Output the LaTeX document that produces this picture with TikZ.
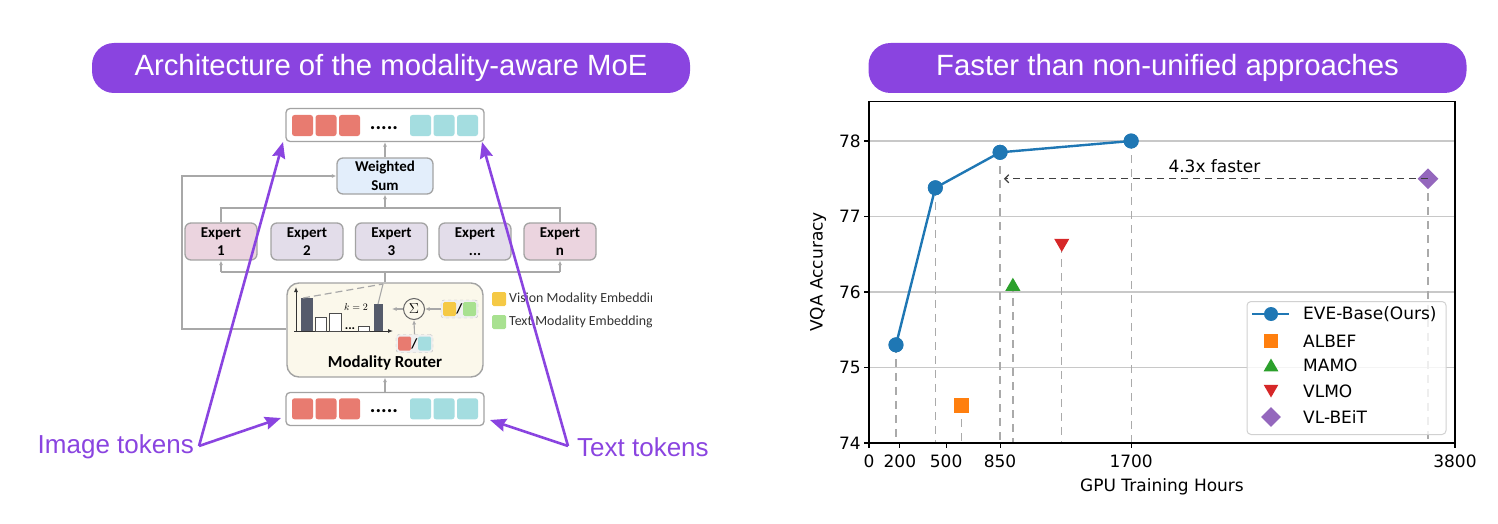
\documentclass[tikz,border=0pt]{standalone}
\usepackage{fontspec}
\setmainfont{Liberation Sans}
\newfontfamily\carl{Carlito}
\newfontfamily\djv{DejaVu Sans}
\usetikzlibrary{arrows.meta,calc,shapes.geometric}
\definecolor{purp}{HTML}{8A44E0}
\definecolor{tokred}{HTML}{E87B70}
\definecolor{tokteal}{HTML}{A4DDE0}
\definecolor{bgray}{HTML}{A3A3A3}
\definecolor{wgray}{HTML}{A8A8A8}
\definecolor{wsfill}{HTML}{E3EEFB}
\definecolor{pinkex}{HTML}{EBD4DF}
\definecolor{lavex}{HTML}{E3DDEA}
\definecolor{routfill}{HTML}{FBF8EB}
\definecolor{bardark}{HTML}{555B6B}
\definecolor{embyel}{HTML}{F5C945}
\definecolor{embgrn}{HTML}{A8E190}
\definecolor{cA}{HTML}{1F77B4}
\definecolor{cB}{HTML}{FF7F0E}
\definecolor{cC}{HTML}{2CA02C}
\definecolor{cD}{HTML}{D62728}
\definecolor{cE}{HTML}{9467BD}
\definecolor{gridc}{HTML}{C8C8C8}
\definecolor{dropc}{HTML}{AAAAAA}
\begin{document}
\begin{tikzpicture}[x=1pt,y=-1pt,
  pill/.style={fill=purp, rounded corners=22pt, text=white, font=\fontsize{29.3}{34}\selectfont, minimum width=598pt, minimum height=50pt, inner sep=0},
  tokbox/.style={draw=bgray, line width=1.3pt, rounded corners=4pt, fill=white, minimum width=198pt, minimum height=33pt, inner sep=0},
  tk/.style={rounded corners=2.5pt, minimum width=21pt, minimum height=21pt, inner sep=0},
  rt/.style={tk, fill=tokred},
  tt/.style={tk, fill=tokteal},
  dots/.style={font=\carl\bfseries\fontsize{21}{21}\selectfont, inner sep=0, anchor=base},
  expertbox/.style={draw=bgray, line width=1.3pt, rounded corners=6pt, minimum width=72pt, minimum height=37pt, inner sep=0, align=center, font=\carl\bfseries\fontsize{15}{18.5}\selectfont},
  wire/.style={draw=wgray, line width=1.1pt},
  warr/.style={wire, -{Latex[length=4.5pt,width=4pt]}},
  parr/.style={draw=purp, line width=2.6pt, -{Stealth[length=16pt,width=13pt,inset=2pt]}},
  plab/.style={text=purp, font=\fontsize{26}{30}\selectfont, inner sep=0},
  mini/.style={minimum width=13pt, minimum height=14pt, inner sep=0, rounded corners=1.5pt},
  embbox/.style={draw=bgray!70, dashed, fill=black!6, rounded corners=3pt, minimum width=37pt, minimum height=18pt, inner sep=0},
  ptxt/.style={font=\djv\fontsize{17}{20}\selectfont, inner sep=0},
  drop/.style={draw=dropc, line width=1.3pt, dash pattern=on 8pt off 6pt},
  ]
\useasboundingbox (0,0) rectangle (1498,524);

% ---------- titles ----------
\node[pill] (t1) at (391,68) {Architecture of the modality-aware MoE};
\node[pill] (t2) at (1167.5,68) {Faster than non-unified approaches};

% ---------- left diagram ----------
% top tokens
\node[tokbox] (topbox) at (385,125) {};
\foreach \i/\x in {1/302.5,2/326,3/349.5}{\node[rt] (tr\i) at (\x,125.5) {};}
\foreach \i/\x in {1/420.5,2/444,3/467.5}{\node[tt] (tt\i) at (\x,125.5) {};}
\node[dots] (tdots) at (384,129) {.....};

% weighted sum
\node[expertbox, fill=wsfill, minimum width=96pt, minimum height=36pt] (ws) at (385,176) {Weighted\\Sum};

% experts
\node[expertbox, fill=pinkex] (e1) at (221,241.5) {Expert\\1};
\node[expertbox, fill=lavex] (e2) at (307,241.5) {Expert\\2};
\node[expertbox, fill=lavex] (e3) at (391.5,241.5) {Expert\\3};
\node[expertbox, fill=lavex] (e4) at (475,241.5) {Expert\\...};
\node[expertbox, fill=pinkex] (e5) at (560,241.5) {Expert\\n};

% router
\node[draw=bgray, line width=1.4pt, rounded corners=12pt, fill=routfill, minimum width=196pt, minimum height=94pt, inner sep=0] (router) at (385,330) {};
\node[font=\carl\bfseries\fontsize{16.8}{18}\selectfont, inner sep=0] (rlab) at (385,363) {Modality Router};

% bottom tokens
\node[tokbox] (botbox) at (385,409) {};
\foreach \i/\x in {1/302.5,2/326,3/349.5}{\node[rt] (br\i) at (\x,408.8) {};}
\foreach \i/\x in {1/420.5,2/444,3/467.5}{\node[tt] (bt\i) at (\x,408.8) {};}
\node[dots] (bdots) at (384,412.5) {.....};

% wires
\coordinate (bt1c) at (221,208);
\coordinate (bt2c) at (560,208);
\coordinate (bmid) at (385,208);
\draw[wire] (e1.north) -- (bt1c) -- (bt2c) -- (e5.north);
\draw[warr] (bmid) -- (ws.south);
\draw[warr] (ws.north) -- (topbox.south);
\coordinate (bb1) at (221,272);
\coordinate (bb2) at (560,272);
\coordinate (bbm) at (385,272);
\draw[warr] (bb1) -- (e1.south);
\draw[warr] (bb2) -- (e5.south);
\draw[wire] (bb1) -- (bb2);
\draw[wire] (router.north) -- (bbm);
\coordinate (res1) at (182,329);
\coordinate (res2) at (182,176);
\draw[warr] (router.west |- res1) -- (res1) -- (res2) -- (ws.west);
\draw[warr] (botbox.north) -- (router.south);

% router internals
\coordinate (ax0) at (296,332);
\draw[black!80, line width=1pt, -{Latex[length=5pt,width=4pt]}] (ax0) -- (296,287);
\draw[black!80, line width=1pt, -{Latex[length=5pt,width=4pt]}] (294,331) -- (393,331);
\fill[bardark] (301,331) rectangle (313,298);
\draw[black!70, fill=white, line width=0.8pt] (315,331) rectangle (326,317);
\draw[black!70, fill=white, line width=0.8pt] (329,331) rectangle (341,313);
\draw[black!70, fill=white, line width=0.8pt] (358,331) rectangle (369,326);
\fill[bardark] (374,331) rectangle (383,304);
\node[font=\carl\bfseries\fontsize{13}{13}\selectfont, inner sep=0, anchor=base] (bdd) at (350,329) {...};
\coordinate (rtop) at (383,284);
\draw[wgray, line width=1.2pt, dash pattern=on 7pt off 4pt] (303,298) -- (rtop);
\draw[wgray, line width=1.1pt] (rtop) -- (378,304);
\node[font=\fontsize{10}{12}\selectfont, inner sep=0] (kk) at (356,307) {$k=2$};
\node[circle, draw=black!60, line width=1pt, minimum size=21pt, inner sep=0, fill=routfill, font=\fontsize{14}{14}\selectfont] (sig) at (414,309) {$\Sigma$};
\coordinate (sigl) at (392,309);
\draw[warr] (sig.west) -- (sigl);
\node[embbox] (emb1) at (459.5,309) {};
\node[mini, fill=embyel] (y1) at (449.5,309) {};
\node[mini, fill=embgrn] (g1) at (469.5,309) {};
\node[font=\carl\bfseries\fontsize{14}{14}\selectfont, inner sep=0] (sl1) at (459.5,309) {/};
\draw[warr] (emb1.west) -- (sig.east);
\node[embbox] (emb2) at (414.5,343.5) {};
\node[mini, fill=tokred] (r2) at (404.5,343.5) {};
\node[mini, fill=tokteal] (c2) at (424.5,343.5) {};
\node[font=\carl\bfseries\fontsize{14}{14}\selectfont, inner sep=0] (sl2) at (414.5,343.5) {/};
\draw[warr] (emb2.north) -- (sig.south);

% side legend (clipped)
\begin{scope}
\clip (0,0) rectangle (651,524);
\node[mini, fill=embyel, minimum width=14pt, minimum height=14pt] (ly) at (499,299) {};
\node[mini, fill=embgrn, minimum width=14pt, minimum height=14pt] (lg) at (499,322) {};
\node[anchor=west, inner sep=0, font=\carl\fontsize{13.9}{14}\selectfont, text=black!80] (lyt) at (509,299) {Vision Modality Embedding};
\node[anchor=west, inner sep=0, font=\carl\fontsize{13.9}{14}\selectfont, text=black!80] (lgt) at (509,322) {Text Modality Embedding};
\end{scope}

% purple annotations
\node[plab, anchor=east] (imgl) at (194,447) {Image tokens};
\node[plab, anchor=west] (txtl) at (577,447) {Text tokens};
\coordinate (ia) at (199,446);
\coordinate (ta) at (568,446);
\coordinate (it1) at (283,142);
\coordinate (it2) at (281,418);
\coordinate (tt1) at (482,142);
\coordinate (tt2) at (490,420);
\draw[parr] (ia) -- (it1);
\draw[parr] (ia) -- (it2);
\draw[parr] (ta) -- (tt1);
\draw[parr] (ta) -- (tt2);

% ---------- plot ----------
\node[ptxt, rotate=90] (ylab) at (818,272) {VQA Accuracy};
\node[ptxt] (xlab) at (1162,487) {GPU Training Hours};
\begin{scope}[shift={(869,443)}, x=0.15421pt, y=75.5pt]
  \foreach \v in {1,2,3,4}{\draw[gridc, line width=1.3pt] (0,\v) -- (3800,\v);}
  \foreach \v in {0,1,2,3,4}{
    \draw[black, line width=1.1pt] (0,\v) -- ++(-5pt,0pt);
    \node[ptxt, anchor=east] at ($(0,\v)+(-8pt,0pt)$) {\the\numexpr74+\v\relax};}
  \foreach \t in {0,200,500,850,1700,3800}{
    \draw[black, line width=1.1pt] (\t,0) -- ++(0pt,-5pt);
    \node[ptxt, anchor=north] at ($(\t,0)+(0pt,-12pt)$) {\t};}
  % drop lines
  \foreach \x/\y in {175/1.3,430/3.38,850/3.85,600/0.5,933/2.1,1250/2.62,1700/4.0,3625/3.5}{
    \draw[drop] (\x,\y) -- (\x,0);}
  % EVE
  \node[circle, fill=cA, minimum size=15pt, inner sep=0] (p1) at (175,1.3) {};
  \node[circle, fill=cA, minimum size=15pt, inner sep=0] (p2) at (430,3.38) {};
  \node[circle, fill=cA, minimum size=15pt, inner sep=0] (p3) at (850,3.85) {};
  \node[circle, fill=cA, minimum size=15pt, inner sep=0] (p4) at (1700,4.0) {};
  \draw[cA, line width=2.4pt] (p1.center) -- (p2.center) -- (p3.center) -- (p4.center);
  \foreach \p in {p1,p2,p3,p4}{\fill[cA] (\p) circle (7.5pt);}
  \node[fill=cB, minimum size=15pt, inner sep=0] (alb) at (600,0.5) {};
  \node[regular polygon, regular polygon sides=3, fill=cC, minimum size=17.5pt, inner sep=0, yshift=-2pt] (mam) at (933,2.1) {};
  \node[regular polygon, regular polygon sides=3, shape border rotate=180, fill=cD, minimum size=17.5pt, inner sep=0, yshift=2pt] (vlm) at (1250,2.62) {};
  \node[diamond, fill=cE, minimum width=21pt, minimum height=21pt, inner sep=0] (vlb) at (3625,3.5) {};
  \coordinate (arrend) at (875,3.5);
  \draw[black!75, line width=1.2pt, dash pattern=on 7pt off 5pt, -{Straight Barb[length=4pt,width=8pt]}] (vlb.center) -- (arrend);
  \node[ptxt, anchor=base] (fast) at (2240,3.58) {4.3x faster};
  % axes box
  \draw[black, line width=1.2pt] (0,0) rectangle (3800,4.52);
  % legend
  \node[draw=black!18, line width=1pt, fill=white, fill opacity=0.8, rounded corners=4pt, minimum width=199pt, minimum height=133pt, inner sep=0] (leg) at ($(0,0)+(477.5pt,75pt)$) {};
\end{scope}
% legend entries (absolute)
\coordinate (l1a) at (1252,314);
\coordinate (l1b) at (1289,314);
\draw[cA, line width=2.4pt] (l1a) -- (l1b);
\node[circle, fill=cA, minimum size=14pt, inner sep=0] (lm1) at (1271,314) {};
\node[fill=cB, minimum size=14pt, inner sep=0] (lm2) at (1271,341) {};
\node[regular polygon, regular polygon sides=3, fill=cC, minimum size=17pt, inner sep=0] (lm3) at (1271,367) {};
\node[regular polygon, regular polygon sides=3, shape border rotate=180, fill=cD, minimum size=17pt, inner sep=0] (lm4) at (1271,389) {};
\node[diamond, fill=cE, minimum width=20pt, minimum height=20pt, inner sep=0] (lm5) at (1271,417) {};
\node[ptxt, anchor=west] (lt1) at (1303,314) {EVE-Base(Ours)};
\node[ptxt, anchor=west] (lt2) at (1303,341) {ALBEF};
\node[ptxt, anchor=west] (lt3) at (1303,365) {MAMO};
\node[ptxt, anchor=west] (lt4) at (1303,391) {VLMO};
\node[ptxt, anchor=west] (lt5) at (1303,417) {VL-BEiT};
\end{tikzpicture}
\end{document}
